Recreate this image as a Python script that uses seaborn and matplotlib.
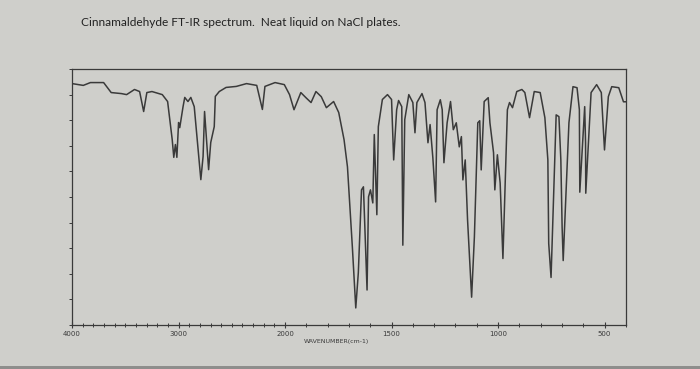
import numpy as np
import pandas as pd
import matplotlib
matplotlib.use("Agg")
import matplotlib.pyplot as plt
from matplotlib.patches import Rectangle
from matplotlib.ticker import FixedLocator, NullFormatter, FixedFormatter
import seaborn as sns

# ---- data (wavenumber cm-1, %T) ----
wavenumber = [
    4000, 3895, 3828, 3704, 3633, 3537, 3488, 3414, 3366, 3328,
    3298, 3250, 3153, 3103, 3060, 3045, 3030, 3016, 3000, 2989,
    2958, 2942, 2912, 2885, 2853, 2791, 2770, 2756, 2718, 2698,
    2665, 2655, 2618, 2554, 2458, 2362, 2266, 2213, 2189, 2094,
    2007, 1979, 1958, 1926, 1902, 1878, 1855, 1830, 1806, 1772,
    1748, 1723, 1707, 1684, 1668, 1656, 1641, 1632, 1615, 1608,
    1599, 1588, 1581, 1569, 1562, 1543, 1519, 1500, 1495, 1490,
    1476, 1467, 1452, 1447, 1438, 1419, 1400, 1390, 1381, 1357,
    1343, 1329, 1319, 1310, 1306, 1293, 1286, 1271, 1262, 1254,
    1239, 1223, 1210, 1196, 1182, 1172, 1165, 1154, 1143, 1124,
    1111, 1095, 1086, 1079, 1065, 1046, 1038, 1021, 1015, 1003,
    990, 977, 956, 946, 932, 912, 888, 874, 852, 830,
    802, 780, 766, 762, 751, 727, 714, 705, 699, 694,
    667, 648, 629, 618, 616, 593, 589, 588, 563, 537,
    515, 500, 482, 466, 433, 411, 400,
]
transmittance = [
    94.3, 93.6, 94.7, 94.7, 90.8, 90.4, 90.0, 92.0, 91.2, 83.4,
    90.8, 91.2, 90.0, 87.3, 72.5, 65.5, 70.5, 65.5, 79.1, 77.1,
    85.3, 88.9, 87.3, 88.9, 85.3, 56.8, 65.8, 83.4, 60.7, 71.3,
    77.5, 89.3, 91.2, 92.8, 93.2, 94.3, 93.6, 84.2, 93.2, 94.7,
    93.9, 90.0, 84.1, 90.8, 88.8, 86.9, 91.2, 89.2, 84.9, 87.3,
    83.0, 72.4, 61.8, 30.5, 6.7, 20.4, 52.8, 54.0, 13.7, 50.1,
    52.8, 47.7, 74.4, 43.1, 77.5, 88.1, 90.0, 88.1, 76.3, 64.5,
    84.1, 87.7, 85.3, 31.2, 80.2, 90.0, 86.9, 75.1, 86.9, 90.4,
    86.9, 71.2, 78.3, 69.6, 65.3, 48.1, 84.1, 88.0, 84.1, 63.4,
    79.0, 87.3, 76.3, 79.0, 69.6, 73.6, 56.7, 64.5, 41.0, 10.9,
    34.4, 79.0, 79.8, 60.6, 87.3, 88.8, 79.0, 67.3, 52.8, 66.5,
    55.5, 26.0, 84.1, 86.9, 84.9, 91.2, 92.0, 90.8, 81.0, 91.2,
    90.8, 81.0, 64.5, 31.9, 18.6, 82.1, 81.4, 64.5, 38.2, 25.2,
    79.0, 93.1, 92.7, 84.1, 51.9, 85.3, 71.2, 51.5, 90.8, 93.9,
    90.8, 68.4, 89.2, 93.1, 92.7, 87.2, 87.2,
]
major_ticks = [4000, 3000, 2000, 1500, 1000, 500]
major_labels = ["4000", "3000", "2000", "1500", "1000", "500"]
title_text = "Cinnamaldehyde FT-IR spectrum.  Neat liquid on NaCl plates."
xlabel_text = "WAVENUMBER(cm-1)"

df = pd.DataFrame({"wavenumber": wavenumber, "T": transmittance})

# ---- style ----
paper = "#cfcfcb"
ink = "#3a3a3a"
sns.set_theme(style="ticks")
plt.rcParams["font.family"] = ["DejaVu Sans"]

fig = plt.figure(figsize=(7.0, 3.69), dpi=100, facecolor=paper)
ax = fig.add_axes([0.103, 0.119, 0.791, 0.694])
ax.set_facecolor(paper)

# thin darker edge of the photographed page at the bottom
fig.patches.append(Rectangle((0, 0), 1, 3 / 369, transform=fig.transFigure,
                             facecolor="#8e8e8c", edgecolor="none", zorder=0))

# piecewise-linear IR axis (increasing): scale doubles below 2000 cm-1
def fwd(w):
    w = np.asarray(w, dtype=float)
    return np.where(w >= 2000, w - 4000, 2 * w - 6000)

def inv(u):
    u = np.asarray(u, dtype=float)
    return np.where(u >= -2000, u + 4000, (u + 6000) / 2)

ax.set_xscale("function", functions=(fwd, inv))

sns.lineplot(data=df, x="wavenumber", y="T", ax=ax, color=ink,
             linewidth=1.1, sort=False, estimator=None)

ax.set_xlim(4000, 400)
ax.set_ylim(0, 100)

ax.xaxis.set_major_locator(FixedLocator(major_ticks))
ax.xaxis.set_major_formatter(FixedFormatter(major_labels))
ax.xaxis.set_minor_locator(FixedLocator(list(range(400, 4001, 100))))
ax.xaxis.set_minor_formatter(NullFormatter())
ax.yaxis.set_major_locator(FixedLocator(list(range(0, 101, 10))))
ax.yaxis.set_major_formatter(NullFormatter())

ax.tick_params(axis="x", which="major", direction="inout", length=4,
               width=0.8, colors=ink, labelsize=5, pad=2.5)
ax.tick_params(axis="x", which="minor", direction="inout", length=2.5,
               width=0.7, colors=ink)
ax.tick_params(axis="y", which="major", direction="out", length=2,
               width=0.7, colors=ink)

for s in ax.spines.values():
    s.set_color(ink)
    s.set_linewidth(0.9)

ax.set_xlabel(xlabel_text, fontsize=4.5, color=ink)
ax.xaxis.set_label_coords(0.478, -0.055)
ax.set_ylabel("")

fig.text(0.116, 0.94, title_text, fontsize=8.6, color="#222222",
         family=["Lato", "DejaVu Sans"], ha="left", va="center")

fig.savefig("out.png", dpi=100, facecolor=paper)
